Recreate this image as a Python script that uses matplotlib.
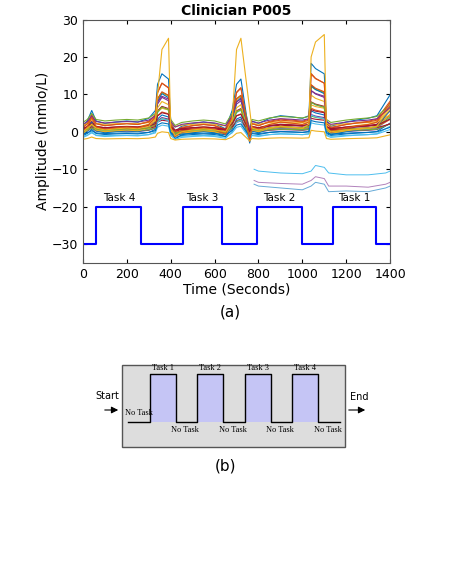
import numpy as np
import matplotlib.pyplot as plt
from matplotlib.patches import Rectangle

# --- data ---
knot_t = [0, 20, 40, 60, 100, 150, 200, 250, 300, 330, 340, 360, 390, 400, 420, 450,
          500, 550, 600, 650, 680, 700, 720, 760, 770, 800, 850, 900, 950, 1000,
          1030, 1040, 1060, 1100, 1110, 1130, 1200, 1250, 1300, 1340, 1370, 1400]
base_shape = [0, 1, 3, 1, 0.5, 0.8, 1, 0.8, 1.5, 3, 8, 10, 9, 1, -1, 0,
              0.5, 0.8, 0.5, -0.5, 3, 8, 9, -2, 1, 0.5, 1.5, 2, 1.8, 1.5,
              2, 12, 11, 10, 1, 0, 0.8, 1.2, 1.5, 2, 4, 6]
chan_gain = [1.4, 1.2, 1.0, 0.9, 0.8, 0.7, 0.6, 0.55, 0.5, 0.45, 0.4, 0.35, 0.3, 0.25,
             1.1, 0.95, 0.85, 0.75, 0.65, 0.5, 0.42, 0.3, 1.3, 0.2]
chan_offset = [1.5, 1.0, 0.5, 0.2, 2.5, -0.5, 0.8, -1.0, 0.3, 1.8, -0.2, 0.0, -1.2, 0.6,
               -0.8, 1.2, -0.4, 2.0, 0.1, -1.5, 0.9, -0.6, 0.0, -2.0]
yellow_ch = [0, 1, 2, 1, 0.5, 0.8, 1, 0.8, 1.5, 3, 10, 22, 25, 1, -1, 0,
             0.5, 0.8, 0.5, 0, 3, 22, 25, 6, 1, 0.5, 1, 1.5, 1.2, 1,
             2, 20, 24, 26, 1, 0, 0.5, 0.8, 1, 1.5, 4, 6]
low_t = [780, 800, 900, 1000, 1040, 1060, 1100, 1120, 1200, 1300, 1380, 1400]
low_a = [-10, -10.5, -11, -11.2, -10.5, -9, -9.5, -11, -11.5, -11.5, -11, -10.5]
low_b = [-13, -13.5, -13.8, -14, -13, -12, -12.5, -14.5, -14.5, -14.8, -14, -13.5]
low_c = [-14, -14.5, -15, -15.5, -14.5, -13.5, -14, -16, -15.8, -16, -15, -14.5]
task_t = [0, 60, 265, 455, 635, 795, 1000, 1140, 1335, 1400]
task_lv = [-30, -20, -30, -20, -30, -20, -30, -20, -30, -30]
task_names = ['Task 4', 'Task 3', 'Task 2', 'Task 1']
task_mid = [165, 545, 897, 1237]

colors = ['#0072BD', '#D95319', '#EDB120', '#7E2F8E', '#77AC30', '#4DBEEE', '#A2142F']

fig = plt.figure(figsize=(4.74, 5.75), dpi=100)
ax = fig.add_axes([0.175, 0.543, 0.648, 0.423])
base = np.array(base_shape)
for i, (g, o) in enumerate(zip(chan_gain, chan_offset)):
    ax.plot(knot_t, g * base + o, color=colors[i % 7], lw=0.8)
ax.plot(knot_t, yellow_ch, color='#EDB120', lw=0.8)
ax.plot(low_t, low_a, color='#4DBEEE', lw=0.7)
ax.plot(low_t, low_b, color='#7E2F8E', lw=0.7, alpha=0.6)
ax.plot(low_t, low_c, color='#0072BD', lw=0.7, alpha=0.6)
ax.plot(task_t, task_lv, color='#0000FF', lw=1.5, drawstyle='steps-post')
for name, m in zip(task_names, task_mid):
    ax.text(m, -19, name, ha='center', va='bottom', fontsize=7.5)
ax.set_xlim(0, 1400)
ax.set_ylim(-35, 30)
ax.set_yticks(range(-30, 31, 10))
ax.set_xticks(range(0, 1401, 200))
ax.tick_params(labelsize=9, direction='in', length=3, top=True, right=True)
ax.set_xlabel('Time (Seconds)', fontsize=10, labelpad=1)
ax.set_ylabel('Amplitude (mmlo/L)', fontsize=10, labelpad=1)
ax.set_title('Clinician P005', fontsize=10, fontweight='bold', pad=3)
for s in ax.spines.values():
    s.set_color('#555555')
fig.text(0.485, 0.457, '(a)', ha='center', va='center', fontsize=11)

# --- panel (b): schematic ---
bx = fig.add_axes([0, 0.2, 1, 0.2])
bx.set_xlim(0, 474)
bx.set_ylim(460, 345)
bx.axis('off')
bx.add_patch(Rectangle((122, 365), 223, 82, facecolor='#DDDDDD', edgecolor='#555555', lw=1))
pulse_x = [150, 176, 197, 223, 245, 271, 292, 318]
ph = [374, 422]
xs = [128]
ys = [ph[1]]
for j in range(0, 8, 2):
    bx.add_patch(Rectangle((pulse_x[j], ph[0]), pulse_x[j + 1] - pulse_x[j], ph[1] - ph[0],
                           facecolor='#C5C5F5', edgecolor='none'))
    xs += [pulse_x[j], pulse_x[j], pulse_x[j + 1], pulse_x[j + 1]]
    ys += [ph[1], ph[0], ph[0], ph[1]]
xs.append(340)
ys.append(ph[1])
bx.plot(xs, ys, color='black', lw=1)
sf = dict(family='Liberation Serif', fontsize=6)
for j, n in enumerate(['Task 1', 'Task 2', 'Task 3', 'Task 4']):
    bx.text((pulse_x[2 * j] + pulse_x[2 * j + 1]) / 2, 372, n, ha='center', va='bottom', **sf)
bx.text(125, 417, 'No Task', ha='left', va='bottom', **sf)
for xn in [185, 233, 280, 328]:
    bx.text(xn, 426, 'No Task', ha='center', va='top', **sf)
bx.annotate('', xy=(121, 410), xytext=(102, 410), arrowprops=dict(arrowstyle='-|>', color='black', lw=0.8))
bx.annotate('', xy=(368, 410), xytext=(346, 410), arrowprops=dict(arrowstyle='-|>', color='black', lw=0.8))
bx.text(107, 396, 'Start', ha='center', va='center', fontsize=7)
bx.text(359, 397, 'End', ha='center', va='center', fontsize=7)
fig.text(0.475, 0.19, '(b)', ha='center', va='center', fontsize=11)

fig.savefig('out.png', dpi=100)
